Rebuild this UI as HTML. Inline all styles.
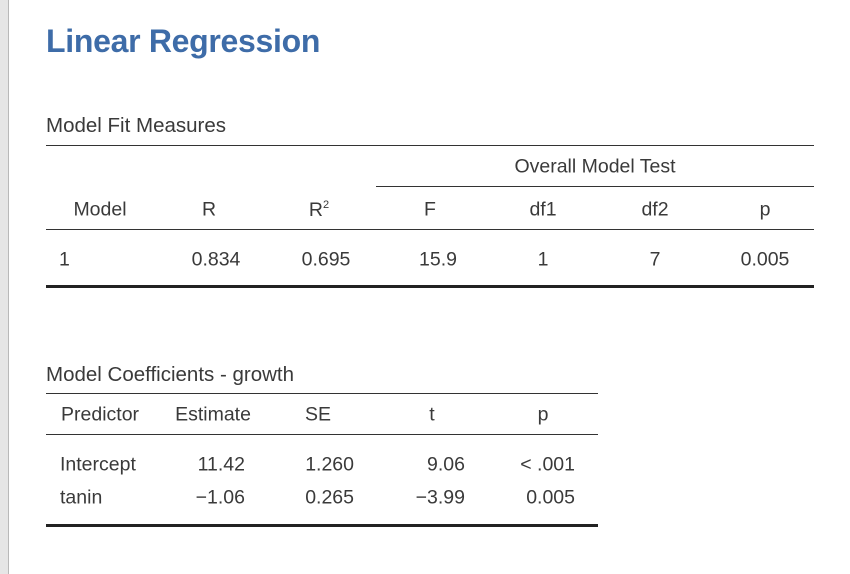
<!DOCTYPE html>
<html><head><meta charset="utf-8"><style>
html,body{margin:0;padding:0;width:850px;height:574px;background:#fff;overflow:hidden;font-family:"Liberation Sans",sans-serif;color:#3a3a3a;}
#strip{position:absolute;left:0;top:0;width:8px;height:574px;background:#e6e6e6;border-right:1px solid #b9b9b9;}
.t{position:absolute;font-size:19.5px;white-space:nowrap;line-height:1;}
.cap{font-size:20.5px;}
.c{transform:translate(-50%,-50%);}
.r{transform:translate(-100%,-50%);}
.l{transform:translateY(-50%);}
.ln{position:absolute;height:1px;background:#333;}
.thk{position:absolute;height:3px;background:#222;}
h1{position:absolute;left:46px;top:22px;margin:0;font-size:32px;line-height:38px;font-weight:bold;color:#3e6ca8;letter-spacing:-0.3px;}
sup{font-size:11px;vertical-align:8px;}
</style></head><body>
<div id="strip"></div>
<h1>Linear Regression</h1>

<div>
<span class="t l cap" style="left:46px;top:126px">Model Fit Measures</span>
<div class="ln" style="left:46px;top:145px;width:768px"></div>
<span class="t c" style="left:595px;top:167px">Overall Model Test</span>
<div class="ln" style="left:376px;top:186px;width:438px"></div>
<span class="t c" style="left:100px;top:210px">Model</span>
<span class="t c" style="left:209px;top:210px">R</span>
<span class="t c" style="left:319px;top:210px">R<sup>2</sup></span>
<span class="t c" style="left:430px;top:210px">F</span>
<span class="t c" style="left:543px;top:210px">df1</span>
<span class="t c" style="left:655px;top:210px">df2</span>
<span class="t c" style="left:765px;top:210px">p</span>
<div class="ln" style="left:46px;top:229px;width:768px"></div>
<span class="t l" style="left:59px;top:260px">1</span>
<span class="t c" style="left:216px;top:260px">0.834</span>
<span class="t c" style="left:326px;top:260px">0.695</span>
<span class="t c" style="left:438px;top:260px">15.9</span>
<span class="t c" style="left:543px;top:260px">1</span>
<span class="t c" style="left:655px;top:260px">7</span>
<span class="t c" style="left:765px;top:260px">0.005</span>
<div class="thk" style="left:46px;top:285px;width:768px"></div>
</div>

<div>
<span class="t l cap" style="left:46px;top:375px">Model Coefficients - growth</span>
<div class="ln" style="left:46px;top:393px;width:552px"></div>
<span class="t l" style="left:61px;top:415px">Predictor</span>
<span class="t c" style="left:213px;top:415px">Estimate</span>
<span class="t c" style="left:318px;top:415px">SE</span>
<span class="t c" style="left:432px;top:415px">t</span>
<span class="t c" style="left:543px;top:415px">p</span>
<div class="ln" style="left:46px;top:434px;width:552px"></div>
<span class="t l" style="left:60px;top:465px">Intercept</span>
<span class="t r" style="left:245px;top:465px">11.42</span>
<span class="t r" style="left:354px;top:465px">1.260</span>
<span class="t r" style="left:465px;top:465px">9.06</span>
<span class="t r" style="left:575px;top:465px">&lt; .001</span>
<span class="t l" style="left:60px;top:498px">tanin</span>
<span class="t r" style="left:245px;top:498px">−1.06</span>
<span class="t r" style="left:354px;top:498px">0.265</span>
<span class="t r" style="left:465px;top:498px">−3.99</span>
<span class="t r" style="left:575px;top:498px">0.005</span>
<div class="thk" style="left:46px;top:524px;width:552px"></div>
</div>
</body></html>
